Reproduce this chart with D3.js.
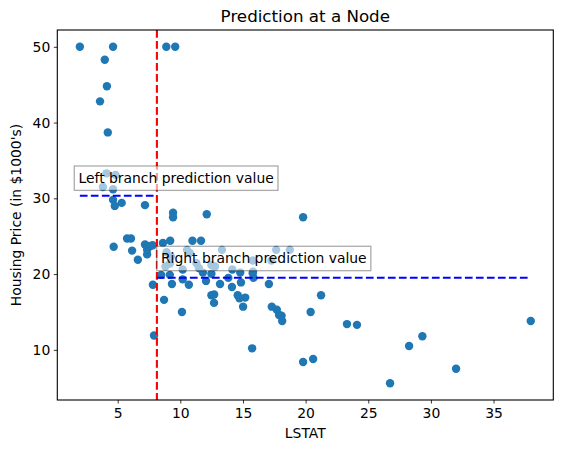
<!DOCTYPE html>
<html>
<head>
<meta charset="utf-8">
<script src="https://cdn.jsdelivr.net/npm/d3@7"></script>
<style>
  body { margin: 0; background: #fff; }
  text { font-family: "DejaVu Sans", sans-serif; fill: #000; }
</style>
</head>
<body>
<div id="chart"></div>
<script>
// scatter points
let lstat = [1.98, 4.63, 3.97, 4.14, 3.59, 4.21, 8.88, 9.59,
  4.11, 4.83, 3.82, 4.63, 4.63, 4.77, 5.32, 7.18,
  9.42, 9.42, 12.11, 19.8, 5.75, 6.06, 4.68, 6.15, 6.61,
  7.18, 7.61, 7.35, 7.35, 7.79, 7.81, 7.9, 8.7, 10.13,
  8.61, 9.19, 10.97, 11.65, 13.32, 17.65, 18.74, 17.27, 15.78,
  8.81, 8.9, 9.17, 9.25, 10.53, 10.76, 11.28, 11.48, 12.48, 12.77,
  14.15, 14.78, 10.19, 15.8, 11.8, 12.48,
  8.47, 9.16, 9.33, 10.19, 10.68, 12.05, 13.17, 14.12, 13.83, 14.84,
  15.84, 15.78, 17.07, 12.48, 12.7, 12.69, 14.58, 15.18, 14.72, 15.01,
  17.3, 17.7, 17.88, 18.08, 18.13, 20.4, 21.23, 15.73, 19.8, 20.6,
  23.3, 24.1, 28.26, 29.32, 32.01, 26.74, 37.97]
let price = [50, 50, 48.3, 44.8, 42.8, 38.7, 50, 50,
  33.3, 33.1, 31.5, 31.2, 29.8, 29.0, 29.4, 29.1,
  28.1, 27.5, 27.9, 27.5, 24.7, 24.7, 23.6, 23.1, 21.9,
  23.9, 23.7, 23.2, 22.6, 23.8, 18.6, 11.9, 16.6, 15.0,
  24.1, 24.4, 24.4, 24.4, 23.2, 23.2, 23.2, 21.8, 21.8,
  21.0, 22.9, 21.4, 22.3, 23.2, 22.8, 21.45, 20.8, 21.2, 21.0,
  20.6, 20.2, 20.6, 20.3, 20.2, 20.05,
  19.9, 19.9, 18.7, 19.3, 18.6, 19.1, 18.7, 18.3, 19.5, 18.9,
  19.5, 20.1, 18.7, 17.2, 17.3, 16.2, 17.2, 16.9, 16.8, 15.7,
  15.7, 15.3, 14.6, 14.5, 13.8, 15.0, 17.2, 10.2, 8.4, 8.8,
  13.4, 13.3, 10.5, 11.8, 7.5, 5.6, 13.8]

let splitValue = 8.13
let leftMean = 30.34
let rightMean = 19.52

let labels = ["Left branch prediction value", "Right branch prediction value"]
let labelX = [1.87, 8.45]
let labelY = [32.0, 21.4]

let xTicks = [5, 10, 15, 20, 25, 30, 35]
let yTicks = [10, 20, 30, 40, 50]

const W = 563, H = 453
const plot = { left: 57.3, right: 553.3, top: 30, bottom: 400 }

let svg = d3.select("#chart").append("svg")
    .attr("width", W)
    .attr("height", H)

let x = d3.scaleLinear().domain([0.18, 39.77]).range([plot.left, plot.right])
let y = d3.scaleLinear().domain([3.38, 52.22]).range([plot.bottom, plot.top])

// axes
let xAxis = svg.append("g")
    .attr("transform", `translate(0,${plot.bottom})`)
    .call(d3.axisBottom(x).tickValues(xTicks).tickSize(3.5).tickPadding(3.5).tickFormat(d3.format("d")))
let yAxis = svg.append("g")
    .attr("transform", `translate(${plot.left},0)`)
    .call(d3.axisLeft(y).tickValues(yTicks).tickSize(3.5).tickPadding(3.5).tickFormat(d3.format("d")))

for (let ax of [xAxis, yAxis]) {
    ax.select(".domain").remove()
    ax.selectAll("line").attr("stroke", "#000").attr("stroke-width", 0.8)
    ax.selectAll("text").style("font-size", "13.9px").attr("font-family", null)
}
xAxis.selectAll("text").attr("dy", "0.76em")

// points
svg.append("g").selectAll("circle")
    .data(lstat.map((d, i) => [d, price[i]]))
    .enter()
    .append("circle")
    .attr("cx", d => x(d[0]))
    .attr("cy", d => y(d[1]))
    .attr("r", 4.2)
    .attr("fill", "#1f77b4")

// split line and branch means
let dash = "7.7,3.3"
svg.append("line")
    .attr("x1", x(splitValue)).attr("x2", x(splitValue))
    .attr("y1", plot.top).attr("y2", plot.bottom)
    .attr("stroke", "red").attr("stroke-width", 2.1).attr("stroke-dasharray", dash)
svg.append("line")
    .attr("x1", x(d3.min(lstat))).attr("x2", x(splitValue))
    .attr("y1", y(leftMean)).attr("y2", y(leftMean))
    .attr("stroke", "blue").attr("stroke-width", 2.1).attr("stroke-dasharray", dash)
svg.append("line")
    .attr("x1", x(splitValue)).attr("x2", x(d3.max(lstat)))
    .attr("y1", y(rightMean)).attr("y2", y(rightMean))
    .attr("stroke", "blue").attr("stroke-width", 2.1).attr("stroke-dasharray", dash)

// frame
svg.append("rect")
    .attr("x", plot.left).attr("y", plot.top)
    .attr("width", plot.right - plot.left).attr("height", plot.bottom - plot.top)
    .attr("fill", "none").attr("stroke", "#000").attr("stroke-width", 1.1)

// text boxes
labels.forEach(function(t, i) {
    let g = svg.append("g")
    let rect = g.append("rect")
    let txt = g.append("text")
        .attr("x", x(labelX[i]))
        .attr("y", y(labelY[i]))
        .style("font-size", "13.9px")
        .text(t)
    let bb = txt.node().getBBox()
    let pad = 4.2
    rect.attr("x", bb.x - pad).attr("y", bb.y - pad)
        .attr("width", bb.width + 2 * pad).attr("height", bb.height + 2 * pad)
        .attr("fill", "rgba(255,255,255,0.6)")
        .attr("stroke", "rgba(0,0,0,0.33)")
        .attr("stroke-width", 1.3)
})

// title and axis labels
svg.append("text")
    .attr("x", (plot.left + plot.right) / 2)
    .attr("y", 21.5)
    .style("text-anchor", "middle")
    .style("font-size", "16.7px")
    .text("Prediction at a Node")

svg.append("text")
    .attr("x", (plot.left + plot.right) / 2)
    .attr("y", 437.5)
    .style("text-anchor", "middle")
    .style("font-size", "13.9px")
    .text("LSTAT")

svg.append("text")
    .attr("transform", `translate(21,${(plot.top + plot.bottom) / 2}) rotate(-90)`)
    .style("text-anchor", "middle")
    .style("font-size", "13.9px")
    .text("Housing Price (in $1000's)")
</script>
</body>
</html>
